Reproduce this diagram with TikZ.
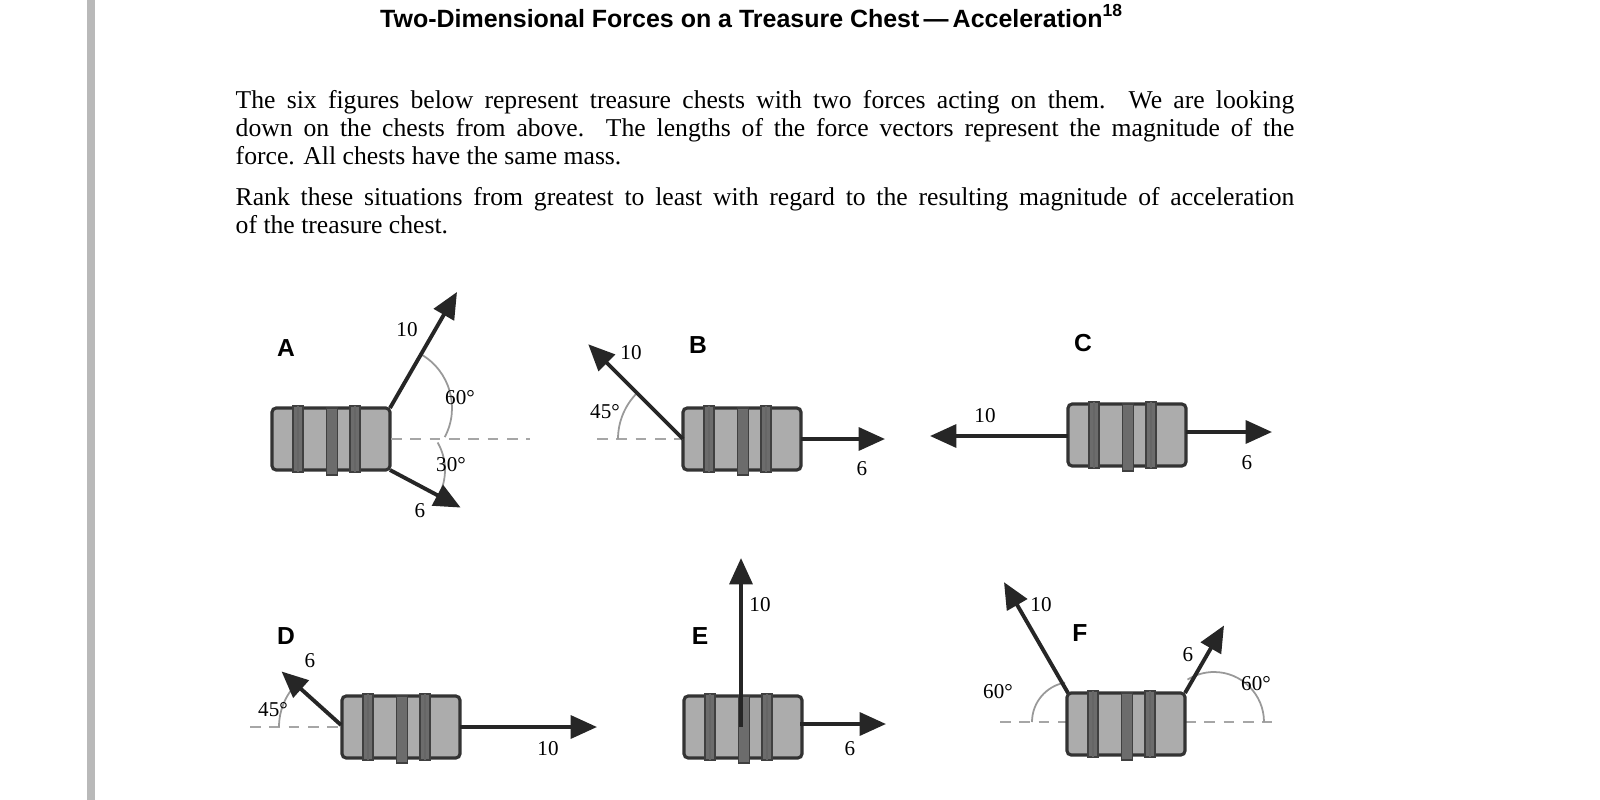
\documentclass[tikz,border=0pt]{standalone}
\usepackage{fontspec}
\setmainfont{Liberation Serif}
\setsansfont{Liberation Sans}
\usetikzlibrary{arrows.meta}
\tikzset{
  force/.style={line width=1.1pt,draw=black!85,-{Triangle[length=7.5pt,width=6.5pt]}},
  dash line/.style={gray!70,dashed,line width=0.5pt,dash pattern=on 3pt off 2.5pt},
  angarc/.style={gray!80,line width=0.5pt},
  lab/.style={font=\fontsize{6}{7}\selectfont,inner sep=0pt},
  letter/.style={font=\sffamily\bfseries\fontsize{7}{8}\selectfont,inner sep=0pt},
  strap/.style={fill=gray!85!black,draw=black!75,line width=0.4pt},
  chest/.pic={
    \fill[gray!65,draw=black!80,line width=0.9pt,rounded corners=1.2pt] (-59,-31) rectangle (59,31);
    \foreach \sx in {-33,24}{\filldraw[strap] (\sx-5,-33) rectangle (\sx+5,33);
      \draw[black!60,line width=0.3pt] (\sx,-33)--(\sx,33);}
    \filldraw[strap] (6.5,-31) rectangle (-4.5,36);
  }
}
\begin{document}
\begin{tikzpicture}[x=0.01cm,y=-0.01cm]
\useasboundingbox[fill=white] (0,0) rectangle (1600,800);
\draw[gray!55,line width=2pt] (91,0)--(91,800);
\node[font=\sffamily\bfseries\fontsize{7.1}{9}\selectfont,inner sep=0pt] (title) at (752,16)
  {Two-Dimensional Forces on a Treasure Chest\,—\,Acceleration\textsuperscript{18}};
\node[anchor=north west,inner sep=0pt,text width=10.58cm,align=justify,
  font=\fontsize{7.3}{7.9}\selectfont] (p1) at (235,90)
  {The six figures below represent treasure chests with two forces acting on them. We are looking\linebreak
   down on the chests from above. The lengths of the force vectors represent the magnitude of the\linebreak
   force. All chests have the same mass.\par\vspace{3.8pt}
   Rank these situations from greatest to least with regard to the resulting magnitude of acceleration\linebreak
   of the treasure chest.};
% A
\pic at (331,439) {chest};
\coordinate (a1) at (390,408); \coordinate (a2) at (390,470);
\draw[dash line] (391,439)--(530,439);
\draw[angarc] (390,408) ++(28:62) arc(28:-60:62);
\draw[angarc] (390,470) ++(-30:55) arc(-30:28:55);
\draw[force] (a1)--++(-60:134) coordinate (a1e);
\draw[force] (a2)--++(28:80) coordinate (a2e);
\node[letter] (lA) at (286,348) {A};
\node[lab] (A10) at (407,330) {10};
\node[lab] (A60) at (460,398) {60°};
\node[lab] (A30) at (451,465) {30°};
\node[lab] (A6) at (420,511) {6};
% B
\pic at (742,439) {chest};
\coordinate (b1) at (683,439); \coordinate (b2) at (801,439);
\draw[dash line] (597,439)--(683,439);
\draw[angarc] (683,439) ++(180:65) arc(180:225:65);
\draw[force] (b1)--++(-135:134);
\draw[force] (b2)--(885,439);
\node[letter] (lB) at (698,345) {B};
\node[lab] (B10) at (631,353) {10};
\node[lab] (B45) at (605,412) {45°};
\node[lab] (B6) at (862,469) {6};
% C
\pic at (1127,435) {chest};
\coordinate (c1) at (1068,436); \coordinate (c2) at (1186,432);
\draw[force] (c1)--(930,436);
\draw[force] (c2)--(1272,432);
\node[letter] (lC) at (1083,343) {C};
\node[lab] (C10) at (985,416) {10};
\node[lab] (C6) at (1247,463) {6};
% D
\pic at (401,727) {chest};
\coordinate (d1) at (341,725); \coordinate (d2) at (460,727);
\draw[dash line] (250,727)--(341,727);
\draw[angarc] (341,727) ++(180:62) arc(180:225:62);
\draw[force] (d1)--++(-138:80);
\draw[force] (d2)--(597,727);
\node[letter] (lD) at (286,636) {D};
\node[lab] (D6) at (310,661) {6};
\node[lab] (D45) at (273,710) {45°};
\node[lab] (D10) at (548,749) {10};
% E
\pic at (743,727) {chest};
\coordinate (e1) at (741,727); \coordinate (e2) at (800,724);
\draw[force] (e1)--(741,558);
\draw[force] (e2)--(886,724);
\node[letter] (lE) at (700,636) {E};
\node[lab] (E10) at (760,605) {10};
\node[lab] (E6) at (850,749) {6};
% F
\draw[dash line] (1000,722)--(1068,722) (1185,722)--(1272,722);
\pic at (1126,724) {chest};
\coordinate (f1) at (1068,693); \coordinate (f2) at (1185,693);
\draw[angarc] (1072,722) ++(180:40) arc(180:260:40);
\draw[angarc] (1214,722) ++(0:50) arc(0:-122:50);
\draw[force] (f1)--++(-120:128);
\draw[force] (f2)--++(-60:78);
\node[letter] (lF) at (1080,633) {F};
\node[lab] (F10) at (1041,605) {10};
\node[lab] (F6) at (1188,655) {6};
\node[lab] (F60a) at (998,692) {60°};
\node[lab] (F60b) at (1256,684) {60°};
\end{tikzpicture}
\end{document}
